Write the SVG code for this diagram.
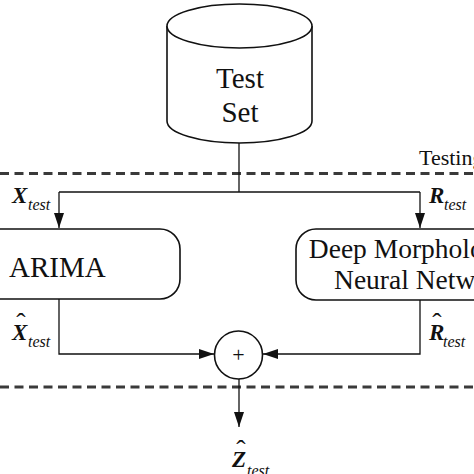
<svg xmlns="http://www.w3.org/2000/svg" width="474" height="474" viewBox="0 0 474 474">
<style>
.ln{fill:none;stroke:#111;stroke-width:1.3}
.bx{fill:#fff;stroke:#111;stroke-width:1.6}
.dash{fill:none;stroke:#3a3a3a;stroke-width:3;stroke-dasharray:9 5.5}
.t{font-family:"Liberation Serif","Times New Roman",serif;fill:#111}
.big{font-size:29px}
.mid{font-size:27.5px}
.sym{font-size:23px;font-weight:bold;font-style:italic}
.sub{font-size:16px;font-style:italic}
.hat{font-size:28px}
</style>
<defs>
<marker id="ah" viewBox="0 0 15 10" refX="15" refY="5" markerWidth="15" markerHeight="10" markerUnits="userSpaceOnUse" orient="auto">
<path d="M0,0 L15,5 L0,10 Z" fill="#111"/>
</marker>
</defs>
<rect width="474" height="474" fill="#fff"/>
<g id="boundaries">
<line class="dash" x1="0" y1="173.5" x2="474" y2="173.5"/>
<line class="dash" x1="0" y1="387" x2="474" y2="387"/>
<text class="t" x="419" y="165" style="font-size:22px">Testing</text>
</g>
<g id="connectors">
<path class="ln" d="M239,143 V192"/>
<path class="ln" d="M59,192 H420"/>
<path class="ln" d="M59,192 V228" marker-end="url(#ah)"/>
<path class="ln" d="M420,192 V228" marker-end="url(#ah)"/>
<path class="ln" d="M59,299 V354 H214" marker-end="url(#ah)"/>
<path class="ln" d="M420,300 V354 H263" marker-end="url(#ah)"/>
<path class="ln" d="M239,379 V427" marker-end="url(#ah)"/>
</g>
<g id="test-set">
<path class="bx" d="M167,26 V121 A72.5,22 0 0 0 312,121 V26"/>
<ellipse class="bx" cx="239.5" cy="26" rx="72.5" ry="22"/>
<text class="t big" x="240" y="88" text-anchor="middle">Test</text>
<text class="t big" x="240" y="122" text-anchor="middle">Set</text>
</g>
<g id="arima">
<rect class="bx" x="-60" y="229" width="240" height="70" rx="20"/>
<text class="t big" x="9" y="277">ARIMA</text>
</g>
<g id="dmnn">
<rect class="bx" x="296" y="229" width="250" height="71" rx="20"/>
<text class="t mid" x="423" y="258" text-anchor="middle">Deep Morphological</text>
<text class="t mid" x="423" y="289" text-anchor="middle">Neural Network</text>
</g>
<g id="sum">
<circle class="bx" cx="238.5" cy="355" r="24"/>
<text class="t" x="238.5" y="362" text-anchor="middle" style="font-size:22px">+</text>
</g>
<g id="labels">
<text class="t"><tspan class="sym" x="12" y="203">X</tspan><tspan class="sub" x="28" y="210">test</tspan></text>
<text class="t"><tspan class="sym" x="429" y="203">R</tspan><tspan class="sub" x="444" y="210">test</tspan></text>
<text class="t"><tspan class="sym" x="12" y="340">X</tspan><tspan class="sub" x="28" y="347">test</tspan></text>
<text class="t hat" x="21" y="332" text-anchor="middle">ˆ</text>
<text class="t"><tspan class="sym" x="429" y="340">R</tspan><tspan class="sub" x="443" y="347">test</tspan></text>
<text class="t hat" x="437" y="332" text-anchor="middle">ˆ</text>
<text class="t"><tspan class="sym" x="232" y="467">Z</tspan><tspan class="sub" x="247" y="476">test</tspan></text>
<text class="t hat" x="241" y="459" text-anchor="middle">ˆ</text>
</g>
</svg>
